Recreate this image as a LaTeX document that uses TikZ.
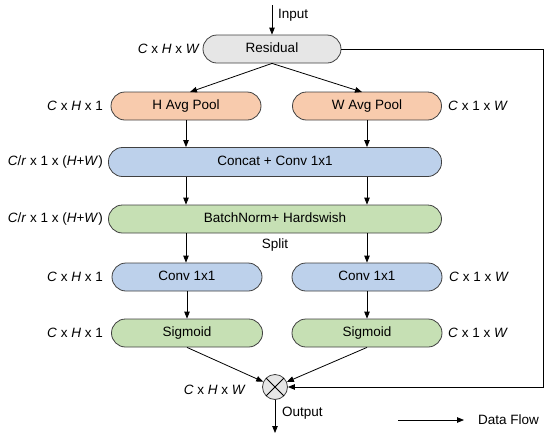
\documentclass[tikz,border=0pt]{standalone}
\usepackage{fontspec}
\setmainfont{Liberation Sans}
\usetikzlibrary{arrows.meta,calc}
\newcommand\It[1]{\textit{#1}}
\definecolor{bordc}{HTML}{404040}
\definecolor{grayf}{HTML}{E6E6E6}
\definecolor{orangef}{HTML}{F8CBAD}
\definecolor{bluef}{HTML}{BDD1EB}
\definecolor{greenf}{HTML}{C6E0B4}
\tikzset{
  blk/.style={draw=bordc, line width=0.8pt, rounded corners=14pt, minimum height=28pt, inner sep=0pt, text height=9.5pt, text depth=2.5pt},
  flow/.style={draw=black, line width=0.8pt, -{Triangle[length=7pt,width=5.5pt]}},
  plain/.style={draw=black, line width=0.8pt},
  lbl/.style={inner sep=0pt},
}
\begin{document}
\begin{tikzpicture}[x=1pt,y=-1pt,font=\fontsize{13.5}{16}\selectfont]
\useasboundingbox (0,0) rectangle (550,440);
% nodes
\node[blk, fill=grayf, minimum width=138pt] (res) at (272,49) {Residual};
\node[blk, fill=orangef, minimum width=150pt] (hpool) at (186,106) {H Avg Pool};
\node[blk, fill=orangef, minimum width=149pt] (wpool) at (367,106) {W Avg Pool};
\node[blk, fill=bluef, minimum width=333pt, minimum height=29pt] (concat) at (275,162) {Concat + Conv 1x1};
\node[blk, fill=greenf, minimum width=333pt] (bn) at (275,219) {BatchNorm+ Hardswish};
\node[blk, fill=bluef, minimum width=150pt] (conv1) at (187,277) {Conv 1x1};
\node[blk, fill=bluef, minimum width=150pt] (conv2) at (367,277) {Conv 1x1};
\node[blk, fill=greenf, minimum width=151pt] (sig1) at (187,333) {Sigmoid};
\node[blk, fill=greenf, minimum width=150pt] (sig2) at (367,333) {Sigmoid};
\node[circle, draw=bordc, line width=0.8pt, fill=grayf, minimum size=25pt, inner sep=0pt] (mult) at (275,387) {};
\draw[plain] ($(mult.center)+(-8.8,-8.8)$) -- ($(mult.center)+(8.8,8.8)$);
\draw[plain] ($(mult.center)+(-8.8,8.8)$) -- ($(mult.center)+(8.8,-8.8)$);
% coordinates
\coordinate (inp) at (272,5);
\coordinate (outp) at (275,433);
\coordinate (rcorner) at (543,49);
\coordinate (dfa) at (398,420);
\coordinate (dfb) at (464,420);
\coordinate (hpin) at (190,92);
\coordinate (wpin) at (362,92);
% labels
\node[lbl, anchor=west] (inlbl) at (278,15) {Input};
\node[lbl, anchor=west] (outlbl) at (282,413) {Output};
\node[lbl] (split) at (275,245) {Split};
\node[lbl, anchor=west] (dflbl) at (478,420) {Data Flow};
\node[lbl, anchor=east] (l0) at (200,49) {\It{C} x \It{H} x \It{W}};
\node[lbl, anchor=east] (l1) at (103,106) {\It{C} x \It{H} x 1};
\node[lbl, anchor=west] (r1) at (448,106) {\It{C} x 1 x \It{W}};
\node[lbl, anchor=east] (l2) at (103,162) {\It{C}/\It{r} x 1 x (\It{H}+\It{W})};
\node[lbl, anchor=east] (l3) at (103,219) {\It{C}/\It{r} x 1 x (\It{H}+\It{W})};
\node[lbl, anchor=east] (l4) at (103,277) {\It{C} x \It{H} x 1};
\node[lbl, anchor=west] (r4) at (449,277) {\It{C} x 1 x \It{W}};
\node[lbl, anchor=east] (l5) at (103,333) {\It{C} x \It{H} x 1};
\node[lbl, anchor=west] (r5) at (448,333) {\It{C} x 1 x \It{W}};
\node[lbl, anchor=east] (lm) at (246,390) {\It{C} x \It{H} x \It{W}};
% connectors
\draw[flow] (inp) -- (res.north);
\draw[flow] (res.south) -- (hpin);
\draw[flow] (res.south) -- (wpin);
\draw[flow] (hpool.south) -- (hpool.south |- concat.north);
\draw[flow] (wpool.south) -- (wpool.south |- concat.north);
\draw[flow] (hpool.south |- concat.south) -- (hpool.south |- bn.north);
\draw[flow] (wpool.south |- concat.south) -- (wpool.south |- bn.north);
\draw[flow] (hpool.south |- bn.south) -- (hpool.south |- conv1.north);
\draw[flow] (conv2.north |- bn.south) -- (conv2.north);
\draw[flow] (conv1.south) -- (sig1.north);
\draw[flow] (conv2.south) -- (sig2.north);
\draw[flow] (sig1.south) -- (mult);
\draw[flow] (sig2.south) -- (mult);
\draw[flow] (res.east) -- (rcorner) |- (mult.east);
\draw[flow] (mult.south) -- (outp);
\draw[flow] (dfa) -- (dfb);
\end{tikzpicture}
\end{document}
